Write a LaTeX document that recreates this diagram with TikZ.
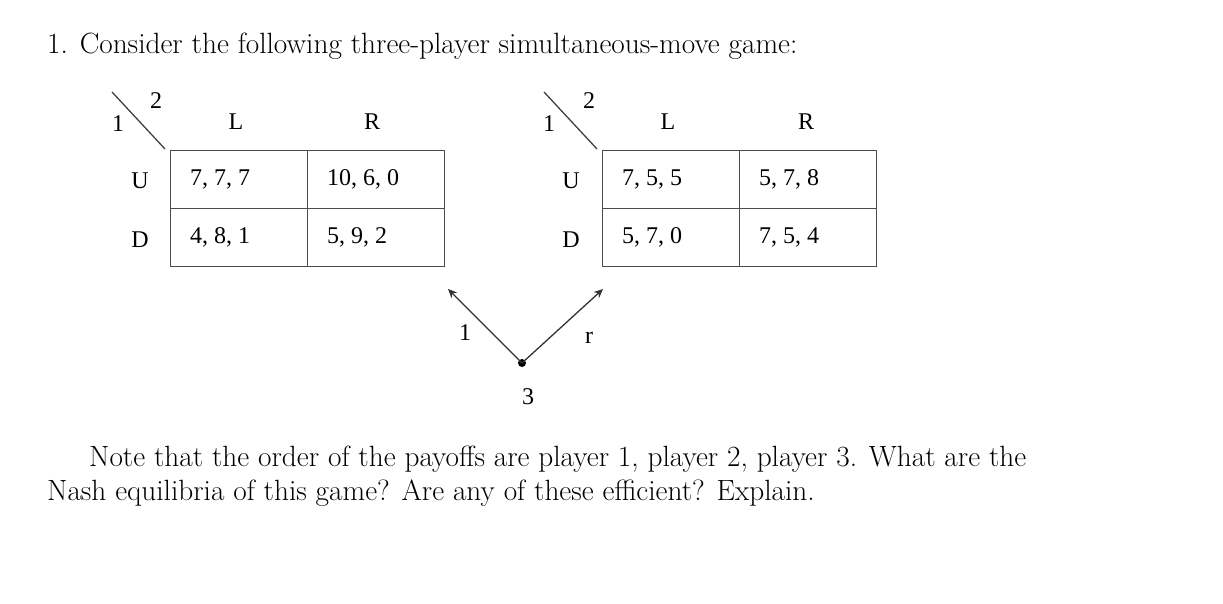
\documentclass[tikz,border=0pt]{standalone}
\usepackage{fontspec}
\usetikzlibrary{arrows.meta}
\newfontfamily\tnr{Liberation Serif}
\begin{document}
\begin{tikzpicture}[x=1pt,y=-1pt,
  tl/.style={font=\tnr\fontsize{24}{27}\selectfont,inner sep=0pt},
  body/.style={font=\fontsize{29.3}{34}\selectfont,inner sep=0pt,anchor=west},
  cell/.style={draw=black!70,line width=1.4pt,minimum width=137pt,minimum height=58pt,inner sep=0pt,anchor=north west}]
\useasboundingbox (0,0) rectangle (1223,603);
\node[body] (title) at (47,46) {1. Consider the following three-player simultaneous-move game:};
% tables
\foreach \tx/\nm in {170/a,602/b}{
  \node[cell] (\nm11) at (\tx,150) {};
  \node[cell] (\nm12) at (\tx+137,150) {};
  \node[cell] (\nm21) at (\tx,208) {};
  \node[cell] (\nm22) at (\tx+137,208) {};
}
\foreach \c/\t in {a11/{7, 7, 7},a12/{10, 6, 0},a21/{4, 8, 1},a22/{5, 9, 2},b11/{7, 5, 5},b12/{5, 7, 8},b21/{5, 7, 0},b22/{7, 5, 4}}
  \node[tl,anchor=west] at ([xshift=20pt]\c.west) {\t};
\node[tl] (aU) at (140,181) {U}; \node[tl] (aD) at (140,240) {D};
\node[tl] (aL) at (236,122) {L}; \node[tl] (aR) at (372,122) {R};
\node[tl] (bU) at (571,181) {U}; \node[tl] (bD) at (571,240) {D};
\node[tl] (bL) at (668,122) {L}; \node[tl] (bR) at (806,122) {R};
\coordinate (ad1) at (112,92); \coordinate (ad2) at (165,149);
\coordinate (bd1) at (544,92); \coordinate (bd2) at (597,149);
\draw[black!75,line width=1.3pt] (ad1) -- (ad2);
\draw[black!75,line width=1.3pt] (bd1) -- (bd2);
\node[tl] (a2) at (156,101) {2}; \node[tl] (a1) at (118,124) {1};
\node[tl] (b2) at (589,101) {2}; \node[tl] (b1) at (549,124) {1};
% tree
\coordinate (root) at (522,363);
\coordinate (lt) at (448,289); \coordinate (rt) at (603,289);
\fill (root) circle (4pt);
\draw[black!80,line width=1.3pt,-{Stealth[length=9pt,width=8pt]}] (root) -- (lt);
\draw[black!80,line width=1.3pt,-{Stealth[length=9pt,width=8pt]}] (root) -- (rt);
\node[tl] (l1) at (465,333) {1};
\node[tl] (rr) at (589,338) {r};
\node[tl] (n3) at (528,397) {3};
\node[body] (note1) at (89,459) {Note that the order of the payoffs are player 1, player 2, player 3. What are the};
\node[body] (note2) at (47,493) {Nash equilibria of this game? Are any of these efficient? Explain.};
\end{tikzpicture}
\end{document}
